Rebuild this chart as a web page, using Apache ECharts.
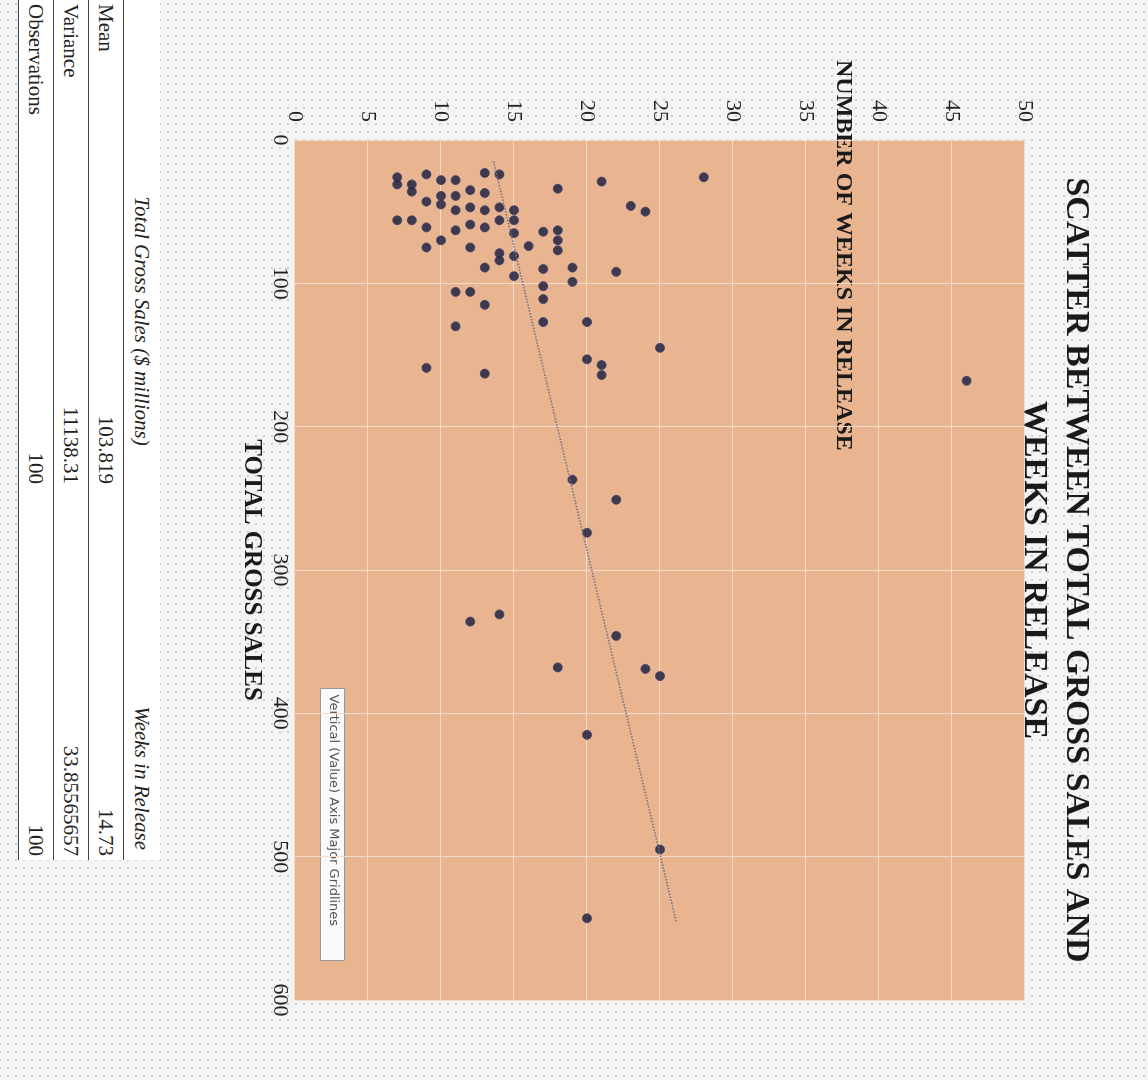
<!doctype html>
<html>
<head>
<meta charset="UTF-8">
<script src="https://cdn.jsdelivr.net/npm/echarts@6/dist/echarts.min.js"></script>
<style>
html,body{margin:0;padding:0;width:1148px;height:1080px;overflow:hidden;background:#f2f2f2;}
#wrap{position:absolute;left:0;top:0;width:1080px;height:1148px;transform-origin:0 0;transform:translate(1148px,0) rotate(90deg);
  background-color:#f4f4f4;background-image:radial-gradient(#cfcfcf 1px,transparent 1.2px);background-size:8px 8px;}
#main{position:absolute;left:0;top:0;width:1080px;height:985px;}
table{position:absolute;left:0;top:988px;width:860px;border-collapse:collapse;font-family:"Liberation Serif",serif;font-size:21px;color:#222;background:#fff;}
td{border-top:1px solid #444;border-bottom:1px solid #444;height:34px;padding:0 4px;}
td.num{text-align:right;}
th{font-weight:normal;font-style:italic;height:34px;border-bottom:1px solid #444;}
</style>
</head>
<body>
<div id="wrap">
  <div id="main"></div>
  <table>
    <tr><th style="width:152px"></th><th style="width:332px">Total Gross Sales ($ millions)</th><th style="text-align:right;padding-right:10px">Weeks in Release</th></tr>
    <tr><td>Mean</td><td class="num">103.819</td><td class="num">14.73</td></tr>
    <tr><td>Variance</td><td class="num">11138.31</td><td class="num">33.85565657</td></tr>
    <tr><td>Observations</td><td class="num">100</td><td class="num">100</td></tr>
  </table>
</div>
<script>
// [total gross sales ($m), weeks in release]
var salesWeeks = [
  [168,46],[26,28],[29,21],[46,23],[50,24],[34,18],[92,22],[89,19],[99,19],[127,20],
  [145,25],[153,20],[157,21],[164,21],[127,17],[111,17],[102,17],[90,17],[63,18],[70,18],
  [77,18],[64,17],[74,16],[81,15],[95,15],[49,15],[56,15],[65,15],[24,14],[47,14],
  [56,14],[79,14],[84,14],[23,13],[37,13],[49,13],[61,13],[89,13],[115,13],[163,13],
  [35,12],[47,12],[59,12],[75,12],[106,12],[28,11],[39,11],[49,11],[63,11],[106,11],
  [130,11],[28,10],[39,10],[45,10],[70,10],[24,9],[43,9],[61,9],[75,9],[159,9],
  [31,8],[36,8],[56,8],[26,7],[31,7],[56,7],[237,19],[251,22],[274,20],[331,14],
  [336,12],[346,22],[368,18],[369,24],[374,25],[415,20],[495,25],[543,20]
];
var trendLine = [[15,13.6],[545,26.1]];
var salesTicks = [0,100,200,300,400,500,600];
var weekTicks = [0,5,10,15,20,25,30,35,40,45,50];

var chart = echarts.init(document.getElementById('main'));
var serif = '"Liberation Serif", serif';
chart.setOption({
  animation:false,
  title:{text:'SCATTER BETWEEN TOTAL GROSS SALES AND\nWEEKS IN RELEASE',left:565,top:46,textAlign:'center',
    textStyle:{fontFamily:serif,fontSize:34,fontWeight:'bold',color:'#1a1a1a',lineHeight:42}},
  grid:{left:140,top:123,width:860,height:730,backgroundColor:'#e9b590',show:true,borderWidth:0},
  xAxis:{type:'value',min:salesTicks[0],max:salesTicks[salesTicks.length-1],interval:100,
    name:'TOTAL GROSS SALES',nameLocation:'middle',nameGap:24,
    nameTextStyle:{fontFamily:serif,fontSize:25,fontWeight:'bold',color:'#1a1a1a'},
    axisLine:{show:false},axisTick:{show:false},
    axisLabel:{fontFamily:serif,fontSize:22,color:'#222',margin:4},
    splitLine:{show:true,lineStyle:{color:'#f6dcc8',width:1}}},
  yAxis:{type:'value',min:weekTicks[0],max:weekTicks[weekTicks.length-1],interval:5,
    axisLine:{show:false},axisTick:{show:false},
    axisLabel:{fontFamily:serif,fontSize:22,color:'#222',margin:18},
    splitLine:{show:true,lineStyle:{color:'#f6dcc8',width:1}}},
  graphic:[
    {type:'text',left:60,top:293,style:{text:'NUMBER OF WEEKS IN RELEASE',font:'bold 24px "Liberation Serif", serif',fill:'#1a1a1a'}},
    {type:'group',left:688,top:803,children:[
      {type:'rect',shape:{x:0,y:0,width:272,height:24},style:{fill:'#fafafa',stroke:'#999',lineWidth:1}},
      {type:'text',x:6,y:5,style:{text:'Vertical (Value) Axis Major Gridlines',font:'13px "DejaVu Sans", sans-serif',fill:'#555'}}
    ]}
  ],
  series:[
    {type:'line',data:trendLine,symbol:'none',lineStyle:{color:'#6b6f86',width:1.5,type:'dotted'}},
    {type:'scatter',data:salesWeeks,symbolSize:9,itemStyle:{color:'#151a3a',borderColor:'#3a4070',borderWidth:1}}
  ]
});
</script>
</body>
</html>
